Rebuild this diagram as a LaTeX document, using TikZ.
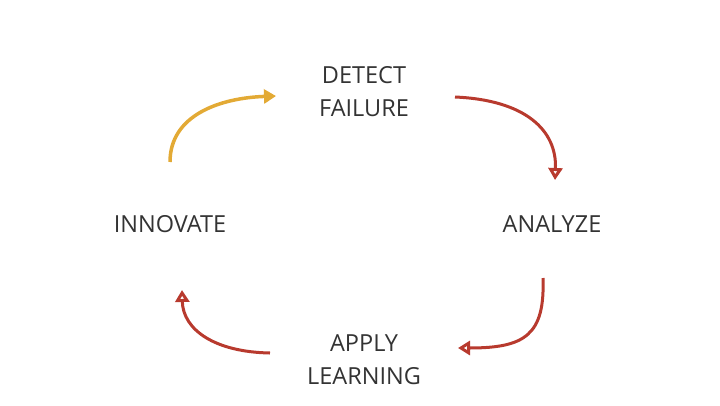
\documentclass[tikz,border=0pt]{standalone}
\usepackage{fontspec}
\setmainfont{Open Sans}
\usetikzlibrary{arrows.meta}
\definecolor{cred}{HTML}{B83A2E}
\definecolor{cyel}{HTML}{E3AA35}
\begin{document}
\begin{tikzpicture}[x=1pt,y=-1pt,
  lbl/.style={font=\fontsize{23.5}{33}\selectfont,text=black!80,align=center,inner sep=0},
  redarr/.style={draw=cred,line width=3pt,-{Triangle[open,length=12pt,width=14pt]}},
  yelarr/.style={draw=cyel,line width=3.5pt,-{Triangle[length=12pt,width=14pt]}}]
\useasboundingbox (0,0) rectangle (720,405);
\node[lbl] (detect) at (364,92) {DETECT\\FAILURE};
\node[lbl] (analyze) at (552,224) {ANALYZE};
\node[lbl] (apply) at (364,360) {APPLY\\LEARNING};
\node[lbl] (innovate) at (170,224) {INNOVATE};
\coordinate (y1) at (170,162); \coordinate (y2) at (276,96);
\coordinate (r1a) at (455,97); \coordinate (r1b) at (555,180);
\coordinate (r2a) at (543,278); \coordinate (r2b) at (458,348);
\coordinate (r3a) at (270,353); \coordinate (r3b) at (182,290);
\draw[yelarr] (y1) .. controls (170,115) and (220,98) .. (y2);
\draw[redarr] (r1a) .. controls (525,100) and (557,130) .. (r1b);
\draw[redarr] (r2a) .. controls (545,335) and (525,348) .. (r2b);
\draw[redarr] (r3a) .. controls (215,352) and (183,330) .. (r3b);
\end{tikzpicture}
\end{document}
